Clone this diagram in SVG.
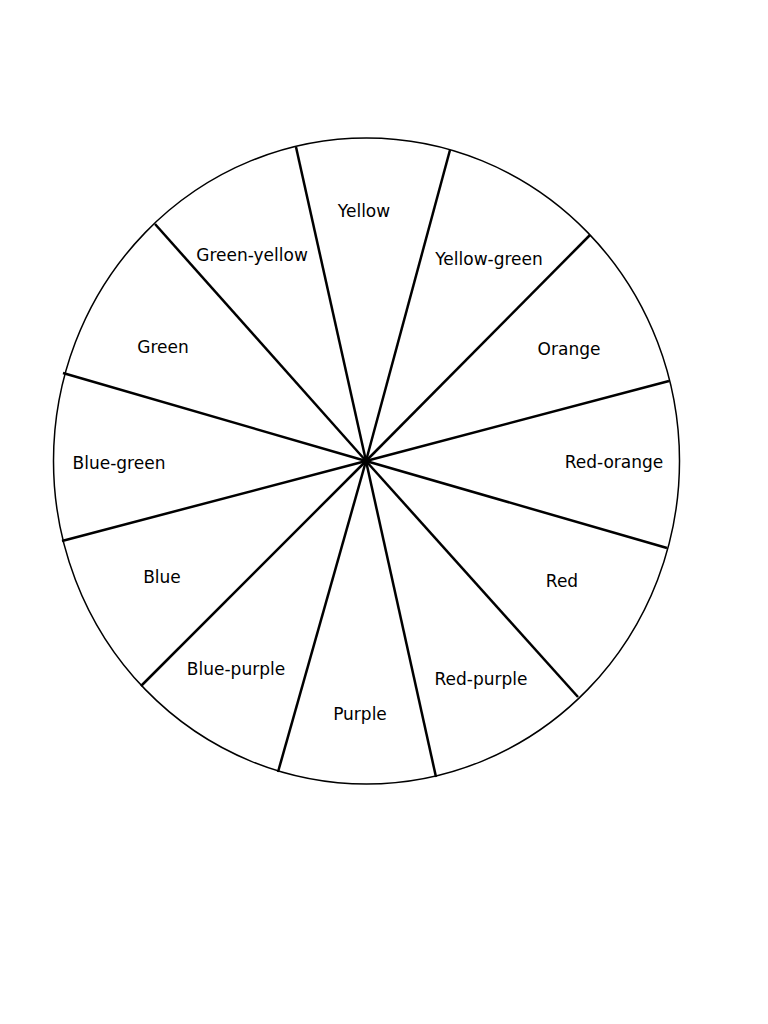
<svg xmlns="http://www.w3.org/2000/svg" width="768" height="1024" viewBox="0 0 768 1024">
<style>
.l{stroke:#000;stroke-width:2.5;fill:none}
text{font-family:"DejaVu Sans","Liberation Sans",sans-serif;font-size:17px;text-anchor:middle;dominant-baseline:middle;fill:#000}
</style>
<rect width="768" height="1024" fill="#fff"/>
<ellipse cx="366.5" cy="461" rx="313" ry="323" fill="none" stroke="#000" stroke-width="1.5"/>
<g id="spokes" class="l">
<line x1="366" y1="461" x2="296" y2="147" class="l"/>
<line x1="366" y1="461" x2="450" y2="150" class="l"/>
<line x1="366" y1="461" x2="590" y2="235" class="l"/>
<line x1="366" y1="461" x2="669" y2="381" class="l"/>
<line x1="366" y1="461" x2="667" y2="548" class="l"/>
<line x1="366" y1="461" x2="578" y2="697" class="l"/>
<line x1="366" y1="461" x2="436" y2="777" class="l"/>
<line x1="366" y1="461" x2="278" y2="772" class="l"/>
<line x1="366" y1="461" x2="141" y2="686" class="l"/>
<line x1="366" y1="461" x2="62" y2="541" class="l"/>
<line x1="366" y1="461" x2="63" y2="373" class="l"/>
<line x1="366" y1="461" x2="155" y2="224" class="l"/>
</g>
<g id="labels">
<text x="364" y="212">Yellow</text>
<text x="489" y="260">Yellow-green</text>
<text x="569" y="350">Orange</text>
<text x="614" y="463">Red-orange</text>
<text x="562" y="582">Red</text>
<text x="481" y="680">Red-purple</text>
<text x="360" y="715">Purple</text>
<text x="236" y="670">Blue-purple</text>
<text x="162" y="578">Blue</text>
<text x="119" y="464">Blue-green</text>
<text x="163" y="348">Green</text>
<text x="252" y="256">Green-yellow</text>
</g>
</svg>
